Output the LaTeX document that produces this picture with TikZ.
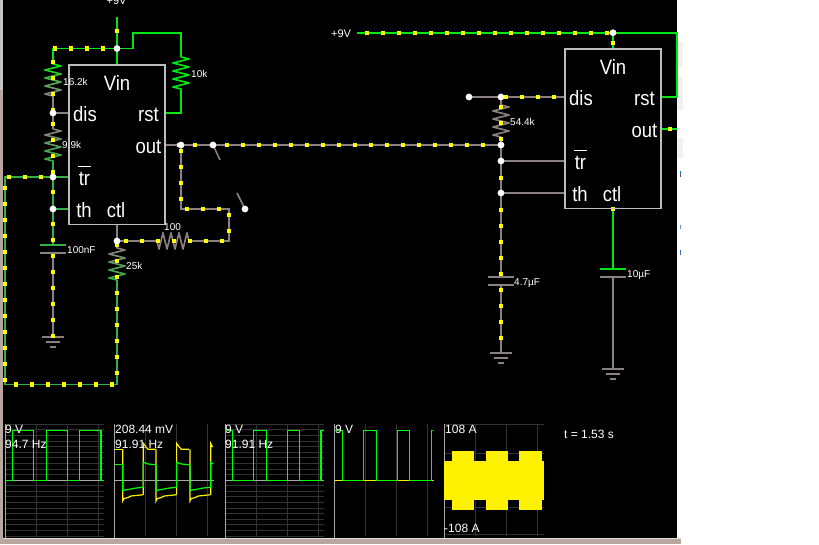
\documentclass[tikz,border=0pt]{standalone}
\usepackage{fontspec}
\setmainfont{Liberation Sans}
\pgfdeclarelayer{paper}
\pgfdeclarelayer{wires}
\pgfdeclarelayer{beads}
\pgfsetlayers{paper,wires,beads,main}
\definecolor{wgray}{HTML}{8C7F7F}
\definecolor{wlime}{HTML}{00E810}
\definecolor{wmid}{HTML}{35B045}
\definecolor{ydot}{HTML}{FFFF00}
\definecolor{chipline}{HTML}{BDBDBD}
\definecolor{griddark}{HTML}{333333}
\definecolor{axisgray}{HTML}{A8A8A8}
\definecolor{frametan}{HTML}{B8A69F}
\definecolor{palepatch}{HTML}{F1F1F1}
\definecolor{framelight}{HTML}{C9C2C2}
\definecolor{frametop}{HTML}{E4DEDA}
\definecolor{speckblue}{HTML}{3070C0}
\definecolor{speckred}{HTML}{B03020}
\definecolor{specksky}{HTML}{60A0D0}
\tikzset{
  wire/.style={line width=1.6pt,line join=miter,line cap=butt},
  resline/.style={line width=1.6pt,line cap=round},
  junction/.style={circle,fill=white,draw=none,minimum size=6.8pt,inner sep=0pt},
  bead/.style={rectangle,fill=ydot,draw=none,minimum size=4.4pt,inner sep=0pt},
  chipbox/.style={rectangle,draw=chipline,line width=1.7pt,minimum width=96pt,minimum height=159.5pt,inner sep=0pt,outer sep=0pt},
  pinlabel/.style={text=white,anchor=base,inner sep=0pt,font=\fontsize{18.5}{20}\selectfont},
  vallabel/.style={text=white,anchor=base west,inner sep=0pt,font=\fontsize{10}{12}\selectfont},
  scopelabel/.style={text=white,anchor=base west,inner sep=0pt,font=\fontsize{12}{14}\selectfont},
  gridline/.style={griddark,line width=0.9pt},
  axisline/.style={axisgray,line width=0.9pt},
  trace/.style={line width=1.2pt,line join=miter},
}
\newcommand{\tallT}[1]{\scalebox{1}[1.12]{#1}}
% vertical and horizontal resistors: name, fixed coord, start, colour from, colour to
\newcommand{\zigV}[5]{%
  \coordinate (#1a) at (#2,#3);\coordinate (#1b) at (#2,#3+32);
  \foreach \i in {0,...,15}{%
    \pgfmathsetmacro\pa{8*sin(90*\i)}\pgfmathsetmacro\pb{8*sin(90*(\i+1))}%
    \pgfmathtruncatemacro\mixv{100-100*\i/15}%
    \draw[resline,color=#4!\mixv!#5] (#2+\pa,#3+\i*2) -- (#2+\pb,#3+\i*2+2);}}
\newcommand{\zigH}[5]{%
  \coordinate (#1a) at (#3,#2);\coordinate (#1b) at (#3+32,#2);
  \foreach \i in {0,...,15}{%
    \pgfmathsetmacro\pa{8*sin(90*\i)}\pgfmathsetmacro\pb{8*sin(90*(\i+1))}%
    \pgfmathtruncatemacro\mixv{100-100*\i/15}%
    \draw[resline,color=#4!\mixv!#5] (#3+\i*2,#2+\pa) -- (#3+\i*2+2,#2+\pb);}}
\newcommand{\beadsH}[2]{\foreach \bx in {#2}{\node[bead] (bh#1-\bx) at (\bx,#1) {};}}
\newcommand{\beadsV}[2]{\foreach \by in {#2}{\node[bead] (bv#1-\by) at (#1,\by) {};}}
\newcommand{\groundsym}[3]{% name, x, y
  \coordinate (#1) at (#2,#3);
  \draw[wgray,line width=1.6pt] (#2-11,#3) -- (#2+11,#3);
  \draw[wgray,line width=1.6pt] (#2-7,#3+5) -- (#2+7,#3+5);
  \draw[wgray,line width=1.6pt] (#2-3,#3+10) -- (#2+3,#3+10);}
\newcommand{\capsym}[5]{% name, x, y1, y2, colour of upper plate
  \coordinate (#1a) at (#2,#3);\coordinate (#1b) at (#2,#4);
  \draw[color=#5,line width=1.6pt] (#2-13,#3) -- (#2+13,#3);
  \draw[wgray,line width=1.6pt] (#2-13,#4) -- (#2+13,#4);}
\begin{document}
\begin{tikzpicture}[x=1pt,y=-1pt]
\useasboundingbox (0,0) rectangle (819,544);
\clip (0,0) rectangle (819,544);
% window surface
\begin{pgfonlayer}{paper}
\fill[white] (0,0) rectangle (819,544);
\fill[black] (0,0) rectangle (677,538);
\fill[palepatch] (677,42) rectangle (683,67);
\fill[palepatch] (677,77) rectangle (683,110);
\fill[palepatch] (677,138) rectangle (683,158);
\fill[framelight] (0,0) rectangle (3,90);
\fill[frametan] (0,90) rectangle (3,544);
\fill[frametan] (0,538) rectangle (681,544);
\fill[frametop] (3,538) rectangle (681,539);
\fill[speckblue] (679.5,171) rectangle (681,175);
\fill[speckred] (680,175) rectangle (681,177);
\fill[specksky] (679.5,225) rectangle (681,229);
\fill[speckblue] (679.5,250) rectangle (681,255);
\end{pgfonlayer}

% chips
\node[chipbox] (chipA) at (117,144.7) {};
\node[chipbox] (chipB) at (613,128.7) {};
\node[pinlabel] (vinA) at (117,90) {\tallT{Vin}};
\node[pinlabel] (disA) at (85,121.7) {\tallT{dis}};
\node[pinlabel] (rstA) at (148.5,121.7) {\tallT{rst}};
\node[pinlabel] (outA) at (148.5,153) {\tallT{out}};
\node[pinlabel] (trA) at (84.5,185.7) {\tallT{tr}};
\node[pinlabel] (thA) at (84,217.7) {\tallT{th}};
\node[pinlabel] (ctlA) at (116,217.7) {\tallT{ctl}};
\node[pinlabel] (vinB) at (613,74) {\tallT{Vin}};
\node[pinlabel] (disB) at (581,105.7) {\tallT{dis}};
\node[pinlabel] (rstB) at (644.5,105.7) {\tallT{rst}};
\node[pinlabel] (outB) at (644.5,137) {\tallT{out}};
\node[pinlabel] (trB) at (580.5,169.7) {\tallT{tr}};
\node[pinlabel] (thB) at (580,201.7) {\tallT{th}};
\node[pinlabel] (ctlB) at (612,201.7) {\tallT{ctl}};
\draw[white,line width=0.8pt] (78,166.3) -- (91,166.3);
\draw[white,line width=0.8pt] (574,150.3) -- (587,150.3);

% junctions
\node[junction] (jA) at (117,48.5) {};
\node[junction] (jB) at (53,113) {};
\node[junction] (jC) at (53,177) {};
\node[junction] (jD) at (53,209) {};
\node[junction] (jE) at (117,241) {};
\node[junction] (jF) at (181,145) {};
\node[junction] (jG) at (213,145) {};
\node[junction] (jH) at (245,209) {};
\node[junction] (jI) at (613,32.7) {};
\node[junction] (jJ) at (469,97) {};
\node[junction] (jK) at (501,97) {};
\node[junction] (jL) at (501,145) {};
\node[junction] (jM) at (501,161) {};
\node[junction] (jN) at (501,193) {};

% free points
\coordinate (supA) at (117,17);
\coordinate (pinVA) at (117,65);
\coordinate (cA1) at (53,48.5);
\coordinate (cA2) at (133,48.5);
\coordinate (cA3) at (133,33);
\coordinate (cA4) at (181,33);
\coordinate (cA5) at (181,113);
\coordinate (pinRA) at (165,113);
\coordinate (pinDA) at (69,113);
\coordinate (pinTA) at (69,177);
\coordinate (pinHA) at (69,209);
\coordinate (pinCA) at (117,225);
\coordinate (pinOA) at (165,145);
\coordinate (cL1) at (5,177);
\coordinate (cL2) at (5,384.5);
\coordinate (cL3) at (117,384.5);
\coordinate (cS1) at (181,209);
\coordinate (cS2) at (229,209);
\coordinate (cS3) at (229,241);
\coordinate (armG) at (220,160);
\coordinate (armH) at (237,193);
\coordinate (supB) at (357,32.7);
\coordinate (cB1) at (677,32.7);
\coordinate (cB2) at (677,97);
\coordinate (pinRB) at (661,97);
\coordinate (pinVB) at (613,49);
\coordinate (pinDB) at (565,97);
\coordinate (pinTB) at (565,161);
\coordinate (pinHB) at (565,193);
\coordinate (pinOB) at (661,128.7);
\coordinate (cOB) at (677,128.7);
\coordinate (pinCB) at (613,209);

\begin{pgfonlayer}{wires}
\zigV{rA}{53}{64}{wlime}{wgray}
\zigV{rB}{53}{129}{wgray}{wmid}
\zigV{rC}{181}{57}{wlime}{wlime}
\zigV{rD}{117}{248}{wgray}{wmid}
\zigV{rE}{501}{105}{wgray}{wgray}
\zigH{rF}{241}{157}{wgray}{wgray}
\capsym{cpA}{53}{245}{252.7}{wmid}
\capsym{cpB}{501}{277}{285}{wgray}
\capsym{cpC}{613}{269}{277}{wlime}
\groundsym{gA}{53}{336.7}
\groundsym{gB}{501}{353}
\groundsym{gC}{613}{369}
% left timer
\draw[wire,wlime] (supA) -- (jA.center);
\draw[wire,wlime] (jA.center) -- (pinVA);
\draw[wire,wlime] (rAa) -- (cA1) -- (jA.center);
\draw[wire,wlime] (jA.center) -- (cA2) -- (cA3) -- (cA4) -- (rCa);
\draw[wire,wlime] (rCb) -- (cA5) -- (pinRA);
\draw[wire,wgray] (rAb) -- (jB.center);
\draw[wire,wgray] (jB.center) -- (pinDA);
\draw[wire,wgray] (jB.center) -- (rBa);
\draw[wire,wmid] (rBb) -- (jC.center);
\draw[wire,wmid] (jC.center) -- (pinTA);
\draw[wire,wmid] (jC.center) -- (jD.center);
\draw[wire,wmid] (jD.center) -- (pinHA);
\draw[wire,wmid] (jD.center) -- (cpAa);
\draw[wire,wgray] (cpAb) -- (gA);
\draw[wire,wmid] (jC.center) -- (cL1) -- (cL2) -- (cL3) -- (rDb);
\draw[wire,wgray] (pinCA) -- (jE.center);
\draw[wire,wgray] (jE.center) -- (rDa);
\draw[wire,wgray] (jE.center) -- (rFa);
\draw[wire,wgray] (rFb) -- (cS3) -- (cS2) -- (cS1) -- (jF.center);
\draw[wire,wgray] (pinOA) -- (jF.center);
\draw[wire,wgray] (jF.center) -- (jG.center);
\draw[wire,wgray] (jG.center) -- (jL.center);
\draw[wire,wgray] (jG.center) -- (armG);
\draw[wire,wgray] (jH.center) -- (armH);
% right timer
\draw[wire,wlime] (supB) -- (jI.center);
\draw[wire,wlime] (jI.center) -- (pinVB);
\draw[wire,wlime] (jI.center) -- (cB1) -- (cB2) -- (pinRB);
\draw[wire,wlime] (pinOB) -- (cOB);
\draw[wire,wgray] (jJ.center) -- (jK.center);
\draw[wire,wgray] (jK.center) -- (pinDB);
\draw[wire,wgray] (jK.center) -- (rEa);
\draw[wire,wgray] (rEb) -- (jL.center);
\draw[wire,wgray] (jL.center) -- (jM.center);
\draw[wire,wgray] (jM.center) -- (pinTB);
\draw[wire,wgray] (jM.center) -- (jN.center);
\draw[wire,wgray] (jN.center) -- (pinHB);
\draw[wire,wgray] (jN.center) -- (cpBa);
\draw[wire,wgray] (cpBb) -- (gB);
\draw[wire,wlime] (pinCB) -- (cpCa);
\draw[wire,wgray] (cpCb) -- (gC);
\end{pgfonlayer}

\begin{pgfonlayer}{beads}
\beadsV{117}{31,245,261,277,293,309,325,341,357,373}
\beadsH{48.5}{55,71,87,103}
\beadsV{53}{62,78,94,110,124,140,156,172,192,208,224,240,256,272,288,304,320,336}
\beadsH{177}{9,25,41}
\beadsV{5}{188,204,220,236,252,268,284,300,316,332,348,364,380}
\beadsH{384.5}{16,32,48,64,80,96,112}
\beadsH{241}{126,142,158,174,190,206,222}
\beadsV{229}{215,231}
\beadsH{209}{187,203,219}
\beadsV{181}{151,167,183,199}
\beadsH{145}{179,195,227,243,259,275,291,307,323,339,355,371,387,403,419,435,451,467,483}
\beadsH{32.7}{367,383,399,415,431,447,463,479,495,511,527,543,559,575,591,607}
\beadsV{613}{43,209}
\beadsH{97}{506,522,538,554}
\beadsV{501}{107,123,139,178,210,226,242,258,274,290,306,322,338}
\beadsH{128.7}{670}
\end{pgfonlayer}

% value labels
\node[vallabel,font=\fontsize{11}{12}\selectfont] (supAlabel) at (106.5,4) {+9V};
\node[vallabel,font=\fontsize{11}{12}\selectfont] (supBlabel) at (331,37) {+9V};
\node[vallabel] (l162) at (63,85) {16.2k};
\node[vallabel] (l99) at (62,148.7) {9.9k};
\node[vallabel] (l10k) at (191,77) {10k};
\node[vallabel] (l100n) at (67,253) {100nF};
\node[vallabel] (l100) at (164,230) {100};
\node[vallabel] (l25k) at (126,269) {25k};
\node[vallabel] (l544) at (510,125) {54.4k};
\node[vallabel] (l47) at (514,285) {4.7µF};
\node[vallabel] (l10u) at (627,277) {10µF};

% scope 1 and scope 3: dense grids
\foreach \sx in {5,225}{
  \foreach \k in {0,...,20}{\draw[griddark,line width=0.8pt] (\sx,424.3+\k*5.58) -- (\sx+99,424.3+\k*5.58);}
}
% vertical grids
\foreach \sx in {5,114.5,225,334.5,444.5}{
  \foreach \k in {31,62,93}{\draw[gridline] (\sx+\k,424) -- (\sx+\k,536);}
}
% scope 5 sparse horizontal grid
\foreach \gy in {424.3,453,480.3,507,534}{\draw[griddark,line width=0.8pt] (444.5,\gy) -- (544,\gy);}
% axes and base lines
\foreach \sx in {5,114.5,225,334.5,444.5}{
  \draw[axisline] (\sx,424) -- (\sx,538);
  \draw[axisline] (\sx,480.3) -- (\sx+99,480.3);
}
% scope 1 trace
\draw[trace,green] (5,480.3) -- (12.7,480.3) -- (12.7,430.3) -- (33.3,430.3) -- (33.3,480.3) -- (46.7,480.3) -- (46.7,430.3) -- (67.3,430.3) -- (67.3,480.3) -- (79.7,480.3) -- (79.7,430.3) -- (101,430.3) -- (101,480.3) -- (104,480.3);
% scope 2 traces
\foreach \ox in {0,33.3,67.3}{
  \draw[trace,yellow] (122.7+\ox,449.3) -- (122.7+\ox,501) -- (124+\ox,498.5) -- (128+\ox,497.5) -- (131+\ox,496) -- (136+\ox,495.5) -- (143.3+\ox,494.7);
}
\draw[trace,yellow] (114.5,449.3) -- (122.7,449.3);
\foreach \ox in {0,33.3}{
  \draw[trace,yellow] (143.3+\ox,494.7) -- (143.3+\ox,443.3) -- (146+\ox,447) -- (148+\ox,449.3) -- (155.8+\ox,449.3);
}
\draw[trace,yellow] (210.7,494.7) -- (210.7,443.3) -- (212.5,447);
\foreach \ox in {0,33.3,67.3}{
  \draw[trace,green] (122.7+\ox,464.7) -- (122.7+\ox,490.7) -- (125+\ox,490) -- (131+\ox,489) -- (136+\ox,488) -- (143.3+\ox,487.3);
}
\draw[trace,green] (114.5,464.7) -- (122.7,464.7);
\foreach \ox in {0,33.3}{
  \draw[trace,green] (143.3+\ox,487.3) -- (143.3+\ox,462.3) -- (148+\ox,464) -- (155.8+\ox,464.7);
}
\draw[trace,green] (210.7,487.3) -- (210.7,462.3) -- (213,464);
% scope 3 trace
\draw[trace,green] (225,430.3) -- (232.7,430.3) -- (232.7,480.3) -- (253.3,480.3) -- (253.3,430.3) -- (266.7,430.3) -- (266.7,480.3) -- (287.3,480.3) -- (287.3,430.3) -- (299.7,430.3) -- (299.7,480.3) -- (321,480.3) -- (321,430.3) -- (324,430.3);
% scope 4 trace
\draw[trace,yellow] (334.5,480.3) -- (433,480.3);
\draw[trace,green] (334.5,430.3) -- (342.3,430.3) -- (342.3,480.3) -- (363.3,480.3) -- (363.3,430.3) -- (376.3,430.3) -- (376.3,480.3) -- (397.3,480.3) -- (397.3,430.3) -- (409.7,430.3) -- (409.7,480.3) -- (431.3,480.3) -- (431.3,430.3) -- (433,430.3);
% scope 5 trace
\fill[yellow] (444,461) rectangle (544,500);
\fill[yellow] (452,451) rectangle (474,510);
\fill[yellow] (486,451) rectangle (508,510);
\fill[yellow] (519,451) rectangle (542,510);
% scope labels
\node[scopelabel] (s1a) at (5,433) {9 V};
\node[scopelabel] (s1b) at (5,448.7) {94.7 Hz};
\node[scopelabel] (s2a) at (115,433) {208.44 mV};
\node[scopelabel] (s2b) at (115,448.7) {91.91 Hz};
\node[scopelabel] (s3a) at (225,433) {9 V};
\node[scopelabel] (s3b) at (225,448.7) {91.91 Hz};
\node[scopelabel] (s4a) at (335,433) {9 V};
\node[scopelabel] (s5a) at (445,433) {108 A};
\node[scopelabel] (s5b) at (444,532.7) {-108 A};
\node[scopelabel] (tlabel) at (564,438.3) {t = 1.53 s};
\end{tikzpicture}
\end{document}
